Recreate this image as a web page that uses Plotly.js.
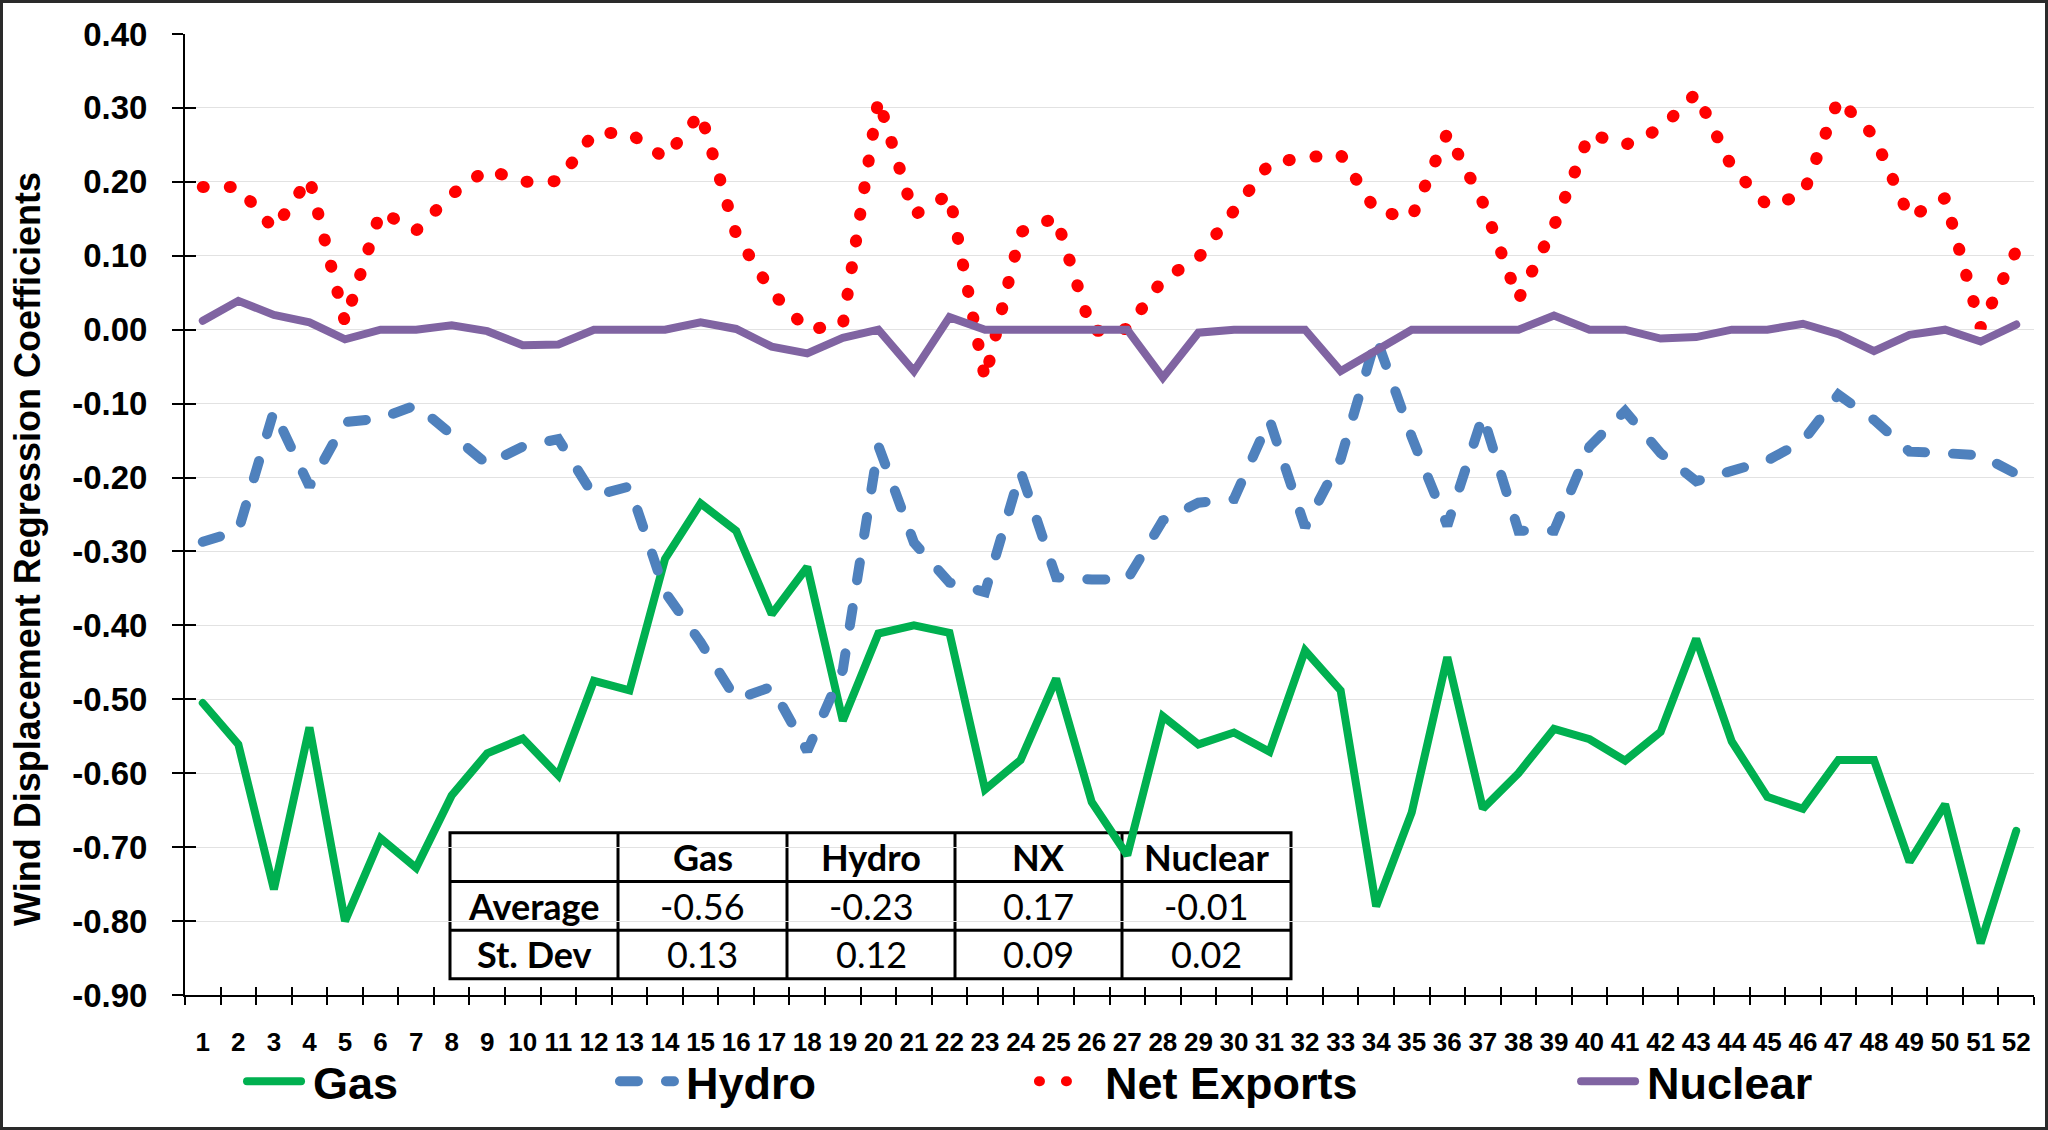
<!DOCTYPE html>
<html>
<head>
<meta charset="utf-8">
<script src="https://cdn.plot.ly/plotly-3.0.1.min.js"></script>
<style>
html,body{margin:0;padding:0;background:#fff;}
#chart{width:2048px;height:1130px;}
#frame{position:absolute;left:0;top:0;width:2048px;height:1130px;box-sizing:border-box;border:3px solid #2a2a2a;pointer-events:none;}
path.js-line{stroke-linecap:round !important;}
.legendlines path.js-line{d:path("M6,0h54");}
</style>
</head>
<body>
<div id="chart"></div>
<div id="frame"></div>
<script>
const weeks = [1,2,3,4,5,6,7,8,9,10,11,12,13,14,15,16,17,18,19,20,21,22,23,24,25,26,
               27,28,29,30,31,32,33,34,35,36,37,38,39,40,41,42,43,44,45,46,47,48,49,50,51,52];

const gas = [-0.505,-0.561,-0.757,-0.538,-0.80,-0.688,-0.728,-0.63,-0.573,-0.553,
             -0.603,-0.475,-0.488,-0.31,-0.235,-0.272,-0.385,-0.321,-0.529,-0.411,
             -0.40,-0.41,-0.622,-0.582,-0.472,-0.639,-0.711,-0.523,-0.561,-0.545,
             -0.571,-0.434,-0.488,-0.78,-0.653,-0.443,-0.648,-0.60,-0.54,-0.554,
             -0.583,-0.544,-0.418,-0.557,-0.632,-0.648,-0.582,-0.582,-0.72,-0.642,
             -0.83,-0.678];

const hydro = [-0.287,-0.272,-0.11,-0.212,-0.125,-0.12,-0.102,-0.143,-0.182,-0.158,
               -0.148,-0.225,-0.212,-0.355,-0.423,-0.50,-0.483,-0.57,-0.46,-0.157,
               -0.288,-0.342,-0.355,-0.192,-0.335,-0.338,-0.338,-0.258,-0.234,-0.229,
               -0.122,-0.267,-0.175,-0.011,-0.145,-0.265,-0.116,-0.272,-0.272,-0.158,
               -0.11,-0.167,-0.205,-0.191,-0.177,-0.151,-0.088,-0.122,-0.165,-0.167,
               -0.17,-0.195];

const netExports = [0.193,0.193,0.136,0.205,0.01,0.16,0.134,0.183,0.217,0.20,
                    0.201,0.266,0.266,0.232,0.293,0.129,0.051,0.0,0.007,0.312,
                    0.155,0.183,-0.067,0.132,0.152,-0.002,0.001,0.068,0.097,0.16,
                    0.225,0.233,0.237,0.16,0.152,0.266,0.172,0.041,0.14,0.265,
                    0.25,0.272,0.32,0.22,0.168,0.182,0.312,0.262,0.152,0.178,
                    0.003,0.107];

const nuclear = [0.012,0.039,0.02,0.01,-0.013,0,0,0.006,-0.002,-0.021,
                 -0.02,0,0,0,0.01,0.001,-0.023,-0.032,-0.011,0,
                 -0.056,0.017,0,0,0,0,0,-0.065,-0.004,0,
                 0,0,-0.056,-0.028,0,0,0,0,0.019,0,
                 0,-0.012,-0.01,0,0,0.008,-0.006,-0.029,-0.007,0,
                 -0.016,0.007];

const yTickVals = [0.4,0.3,0.2,0.1,0,-0.1,-0.2,-0.3,-0.4,-0.5,-0.6,-0.7,-0.8,-0.9];
const yTickText = ['0.40','0.30','0.20','0.10','0.00','-0.10','-0.20','-0.30','-0.40','-0.50','-0.60','-0.70','-0.80','-0.90'];
const yTitle = 'Wind Displacement Regression Coefficients';

const statCols = ['Gas','Hydro','NX','Nuclear'];
const rowLabels = ['Average','St. Dev'];
const avgRow = ['-0.56','-0.23','0.17','-0.01'];
const sdRow = ['0.13','0.12','0.09','0.02'];

const cats = weeks.map(String);
const axFont = 'Liberation Sans, Arial, sans-serif';
const tblFont = 'Lato, Carlito, sans-serif';

// ---- layout geometry (pixels) ----
const W = 2048, H = 1130;
const M = {l:185, r:14, t:34, b:118};
const plotW = W - M.l - M.r, plotH = H - M.t - M.b;
const yMin = -0.9, yMax = 0.4;
const catW = plotW / weeks.length;
const pxToCat = px => (px - M.l) / catW - 0.5;
const pxToVal = py => yMax - (py - M.t) / plotH * (yMax - yMin);
const pxToPaperX = px => (px - M.l) / plotW;
const pxToPaperY = py => (H - M.b - py) / plotH;

// inset table grid (pixel edges)
const tblColEdges = [450, 618, 787, 955, 1122, 1291].map(pxToCat);
const tblRowEdges = [847, 896.5, 946, 995.5].map(pxToVal);

const shapes = [];
const annotations = [];
shapes.push({type:'rect', xref:'x', yref:'y', layer:'below',
  x0:tblColEdges[0], x1:tblColEdges[5], y0:tblRowEdges[0], y1:tblRowEdges[3],
  fillcolor:'#fff', line:{color:'#000', width:3}});
for (let i = 1; i < tblColEdges.length - 1; i++) {
  shapes.push({type:'line', xref:'x', yref:'y', layer:'below',
    x0:tblColEdges[i], x1:tblColEdges[i], y0:tblRowEdges[0], y1:tblRowEdges[3],
    line:{color:'#000', width:3}});
}
for (let j = 1; j < tblRowEdges.length - 1; j++) {
  shapes.push({type:'line', xref:'x', yref:'y', layer:'below',
    x0:tblColEdges[0], x1:tblColEdges[5], y0:tblRowEdges[j], y1:tblRowEdges[j],
    line:{color:'#000', width:3}});
}
const cellCx = i => (tblColEdges[i] + tblColEdges[i+1]) / 2;
const cellCy = j => (tblRowEdges[j] + tblRowEdges[j+1]) / 2;
const tblTextFont = {family:tblFont, size:36, color:'#000'};
function cellText(txt, ci, rj) {
  annotations.push({xref:'x', yref:'y', x:cellCx(ci), y:cellCy(rj), text:txt,
    showarrow:false, xanchor:'center', yanchor:'middle', font:tblTextFont});
}
statCols.forEach((c, i) => cellText('<b>' + c + '</b>', i + 1, 0));
rowLabels.forEach((r, j) => cellText('<b>' + r + '</b>', 0, j + 1));
avgRow.forEach((v, i) => cellText(v, i + 1, 1));
sdRow.forEach((v, i) => cellText(v, i + 1, 2));

// y-axis title (placed as in the reference, slightly below the axis centre)
annotations.push({xref:'paper', yref:'paper', x:pxToPaperX(28), y:pxToPaperY(558),
  xanchor:'center', yanchor:'middle', textangle:-90, showarrow:false, text:yTitle,
  font:{family:axFont, size:36, weight:'bold', color:'#000'}});

const traces = [
  {type:'scatter', mode:'lines', name:'Gas', x:cats, y:gas,
   line:{color:'#00B050', width:8}, legend:'legend'},
  {type:'scatter', mode:'lines', name:'Hydro', x:cats, y:hydro,
   line:{color:'#4F81BD', width:10, dash:'18px,28px'}, legend:'legend2'},
  {type:'scatter', mode:'lines', name:'Net Exports', x:cats, y:netExports,
   line:{color:'#FF0000', width:12, dash:'1px,26px'}, legend:'legend3'},
  {type:'scatter', mode:'lines', name:'Nuclear', x:cats, y:nuclear,
   line:{color:'#8064A2', width:8}, legend:'legend4'},
  {type:'scatter', mode:'lines', x:cats, y:cats.map(()=>null), xaxis:'x2', yaxis:'y2',
   showlegend:false, hoverinfo:'skip'}
];

const legBase = {orientation:'h', y:-0.09, yanchor:'middle', xanchor:'left', itemwidth:62,
  bgcolor:'rgba(0,0,0,0)', font:{family:axFont, size:45, weight:'bold', color:'#000'}};

const layout = {
  width:W, height:H,
  margin:M,
  paper_bgcolor:'#fff', plot_bgcolor:'rgba(0,0,0,0)',
  font:{family:axFont, color:'#000'},
  showlegend:true,
  legend:Object.assign({}, legBase, {x:0.0303}),
  legend2:Object.assign({}, legBase, {x:0.232}),
  legend3:Object.assign({}, legBase, {x:0.4586}),
  legend4:Object.assign({}, legBase, {x:0.7518}),
  shapes:shapes,
  annotations:annotations,
  xaxis:{type:'category', range:[-0.5,51.5], tickmode:'linear', tick0:0, dtick:1,
    tickson:'boundaries', ticks:'outside', ticklen:8, tickwidth:2, tickcolor:'#000',
    showline:true, linecolor:'#000', linewidth:2, showgrid:false, zeroline:false,
    tickangle:0, ticklabelstandoff:23,
    tickfont:{family:axFont, size:26, weight:'bold', color:'#000'}},
  yaxis:{range:[yMin,yMax], tickmode:'array', tickvals:yTickVals, ticktext:yTickText,
    ticks:'outside', ticklen:11, tickwidth:2, tickcolor:'#000',
    showline:true, linecolor:'#000', linewidth:2,
    showgrid:true, gridcolor:'#e2e2e2', gridwidth:1, zeroline:false,
    ticklabelstandoff:18,
    tickfont:{family:axFont, size:33, weight:'bold', color:'#000'}},
  xaxis2:{type:'category', overlaying:'x', anchor:'y2', range:[-0.5,51.5],
    tickmode:'linear', tick0:0, dtick:1, tickson:'boundaries',
    ticks:'inside', ticklen:8, tickwidth:2, tickcolor:'#000',
    showticklabels:false, showgrid:false, showline:false, zeroline:false},
  yaxis2:{overlaying:'y', anchor:'x2', side:'left', range:[yMin,yMax],
    tickmode:'array', tickvals:yTickVals, ticks:'inside', ticklen:11, tickwidth:2, tickcolor:'#000',
    showticklabels:false, showgrid:false, showline:false, zeroline:false}
};

Plotly.newPlot('chart', traces, layout, {displayModeBar:false, staticPlot:true});
</script>
</body>
</html>
